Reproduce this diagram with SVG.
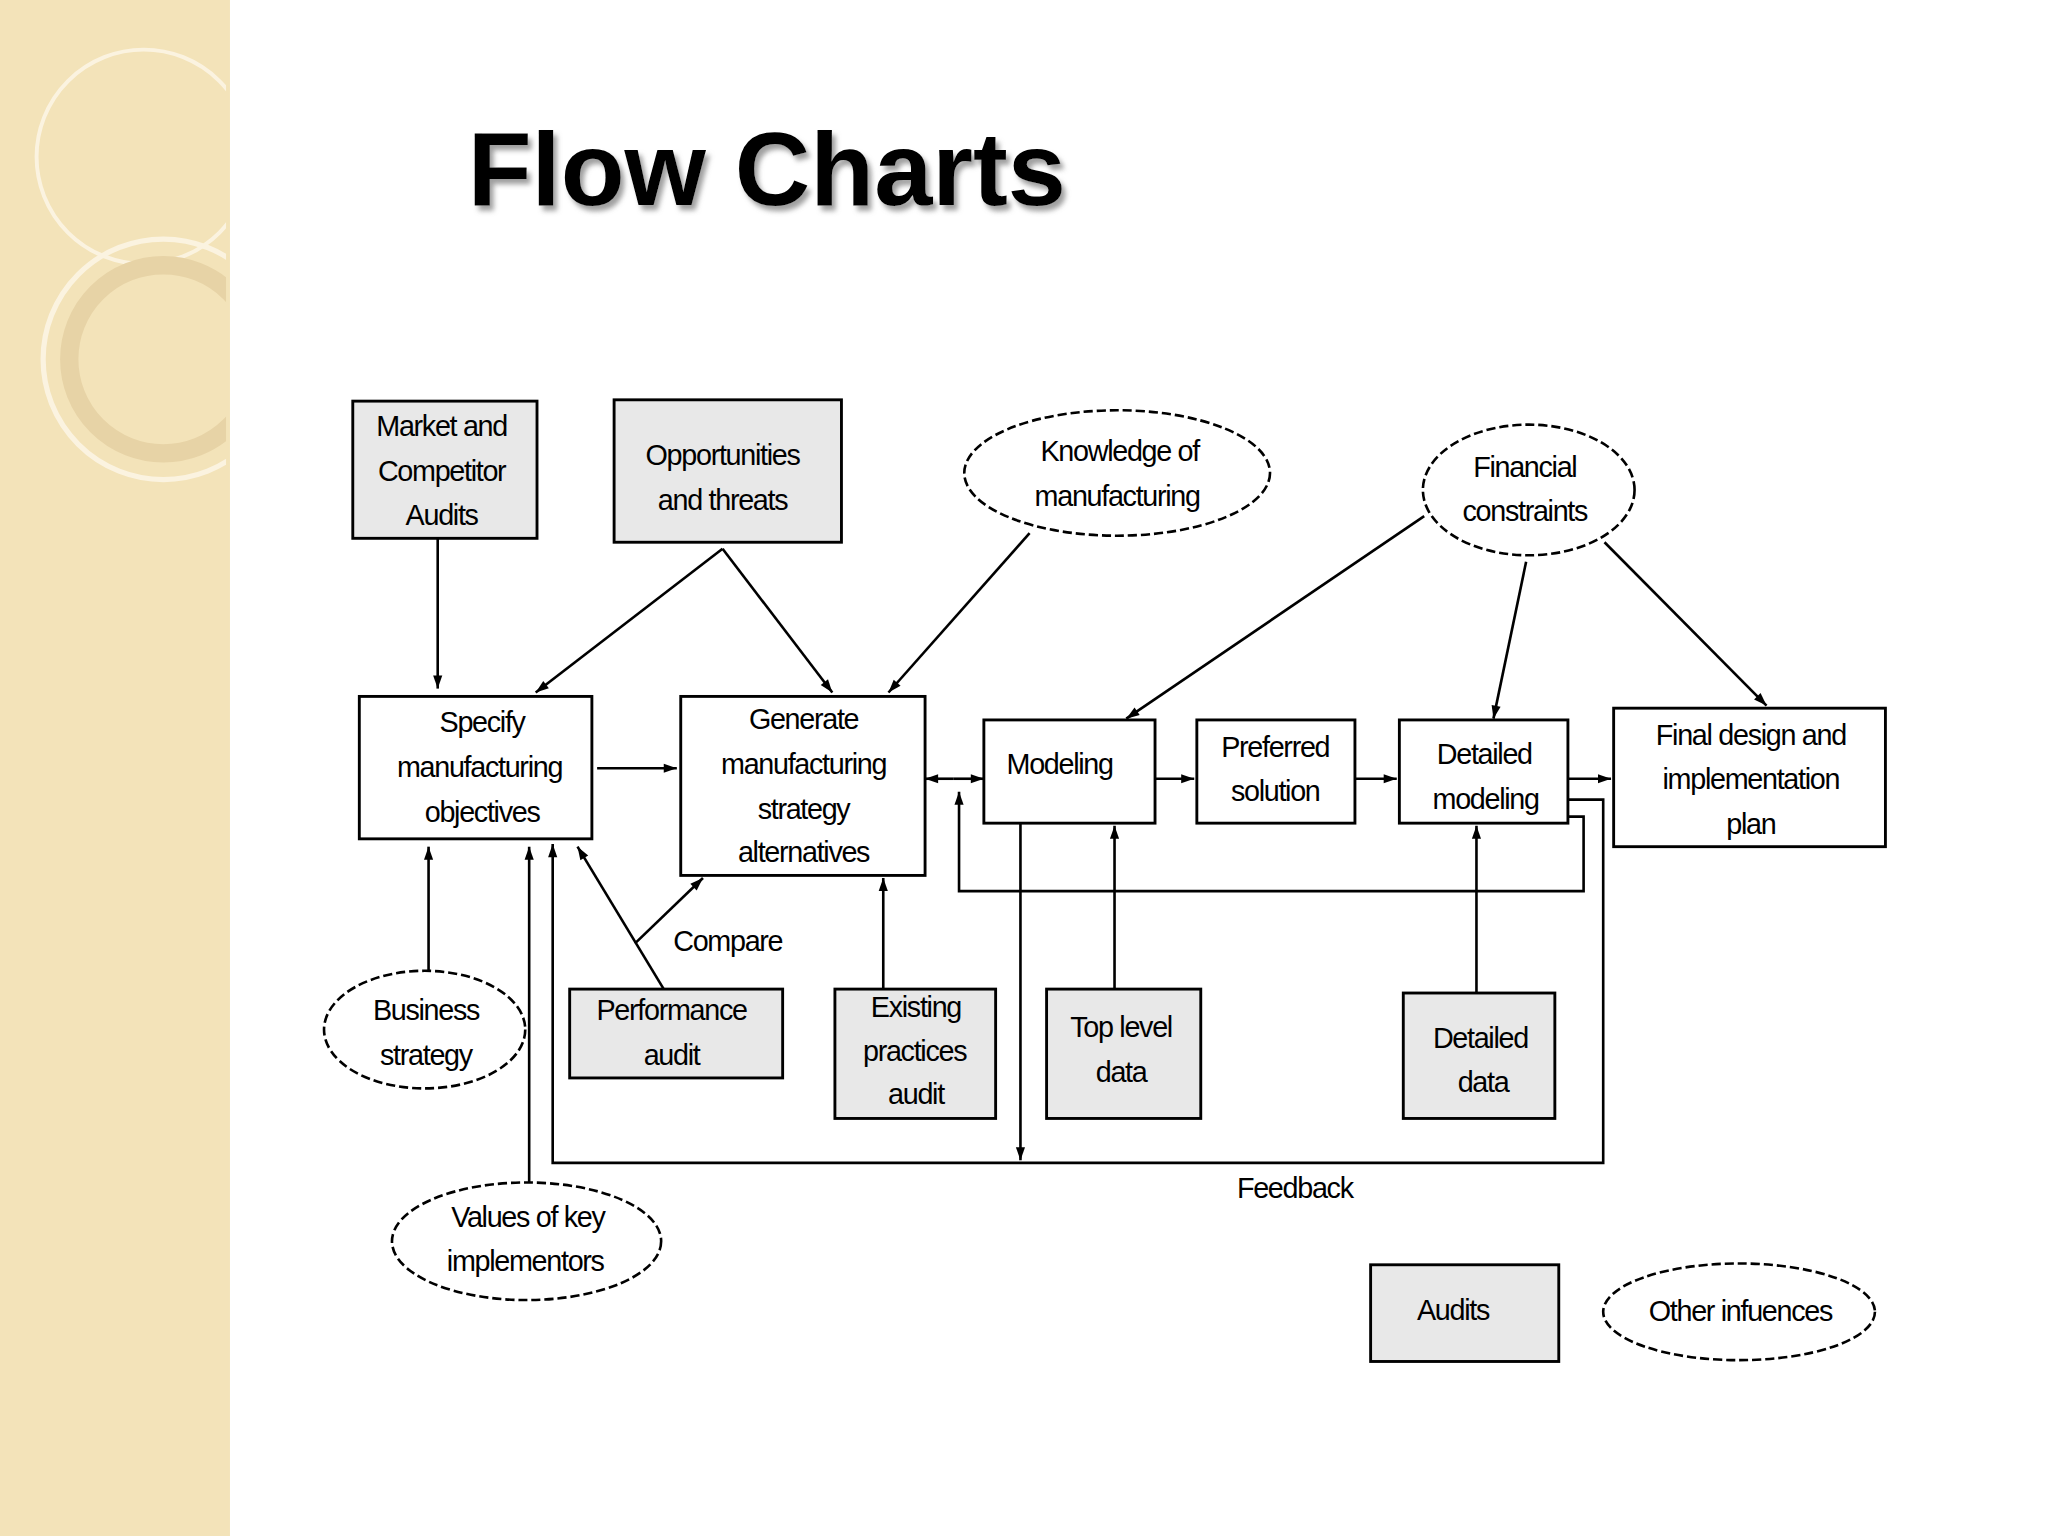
<svg xmlns="http://www.w3.org/2000/svg" width="2048" height="1536" viewBox="0 0 2048 1536">
<style>
.box{stroke:#000;stroke-width:2.2;}
.g{fill:#e8e8e8}.w{fill:#fff}
.el{fill:#fff;stroke:#000;stroke-width:2;stroke-dasharray:7 3}
.t{font-family:"Liberation Sans",Arial,sans-serif;font-size:22px;fill:#000;text-anchor:middle;letter-spacing:-1px}
.c{fill:none;stroke:#000;stroke-width:2}
</style>
<defs>
<marker id="a" viewBox="0 0 10 10" refX="10" refY="5" markerWidth="13" markerHeight="10" orient="auto-start-reverse" markerUnits="userSpaceOnUse"><path d="M0,1.5 L10,5 L0,8.5 z" fill="#000"/></marker>
<clipPath id="strip"><rect x="0" y="0" width="173" height="1176"/></clipPath>
<filter id="sh" x="-5%" y="-20%" width="115%" height="150%"><feDropShadow dx="3" dy="4" stdDeviation="2" flood-color="#777" flood-opacity="0.7"/></filter>
</defs>
<rect width="2048" height="1536" fill="#fff"/>
<g transform="scale(1.3066)">
<rect x="0" y="0" width="176" height="1180" fill="#f3e3b9"/>
<g clip-path="url(#strip)" fill="none" stroke="#fbf3e0" stroke-width="3">
<circle cx="110" cy="120" r="82"/>
<circle cx="125" cy="275" r="92" stroke-width="4"/>
<circle cx="125" cy="275" r="72" stroke="#e7d3a6" stroke-width="14"/>
</g>
<text x="358" y="157" font-family="Liberation Sans,Arial,sans-serif" font-weight="bold" font-size="80" fill="#000" filter="url(#sh)">Flow Charts</text>

<g id="connectors" marker-end="url(#a)">
<path class="c" d="M335,412 V527"/>
<path class="c" d="M553,420 L410,530"/>
<path class="c" d="M553,420 L637,530"/>
<path class="c" d="M788,408 L680,530"/>
<path class="c" d="M1090,395 L862,550"/>
<path class="c" d="M1168,430 L1143,550"/>
<path class="c" d="M1228,415 L1352,540"/>
<path class="c" d="M457,588 H518"/>
<path class="c" d="M730,596 H753"/>
<path class="c" d="M730,596 H708"/>
<path class="c" d="M884,596 H914"/>
<path class="c" d="M1037,596 H1069"/>
<path class="c" d="M1200,596 H1233"/>
<path class="c" d="M1200,625 H1212 V682 H734 V606"/>
<path class="c" d="M1200,612 H1227 V890 H423 V646"/>
<path class="c" d="M781,630 V888"/>
<path class="c" d="M853,757 V632"/>
<path class="c" d="M1130,760 V632"/>
<path class="c" d="M676,757 V672"/>
<path class="c" d="M328,743 V648"/>
<path class="c" d="M405,905 V648"/>
<path class="c" d="M508,757 L442,648"/>
<path class="c" d="M486,722 L538,672"/>
</g>

<g id="n-market"><rect class="box g" x="270" y="307" width="141" height="105"/><text class="t" x="338" y="334">Market and</text><text class="t" x="338" y="368">Competitor</text><text class="t" x="338" y="402">Audits</text></g>
<g id="n-opp"><rect class="box g" x="470" y="306" width="174" height="109"/><text class="t" x="553" y="356">Opportunities</text><text class="t" x="553" y="390">and threats</text></g>
<g id="n-know"><ellipse class="el" cx="855" cy="362" rx="117" ry="48"/><text class="t" x="857" y="353">Knowledge of</text><text class="t" x="855" y="387">manufacturing</text></g>
<g id="n-fin"><ellipse class="el" cx="1170" cy="375" rx="81" ry="50"/><text class="t" x="1167" y="365">Financial</text><text class="t" x="1167" y="399">constraints</text></g>
<g id="n-spec"><rect class="box w" x="275" y="533" width="178" height="109"/><text class="t" x="369" y="560">Specify</text><text class="t" x="367" y="595">manufacturing</text><text class="t" x="369" y="629">objectives</text></g>
<g id="n-gen"><rect class="box w" x="521" y="533" width="187" height="137"/><text class="t" x="615" y="558">Generate</text><text class="t" x="615" y="592">manufacturing</text><text class="t" x="615" y="627">strategy</text><text class="t" x="615" y="660">alternatives</text></g>
<g id="n-mod"><rect class="box w" x="753" y="551" width="131" height="79"/><text class="t" x="811" y="592">Modeling</text></g>
<g id="n-pref"><rect class="box w" x="916" y="551" width="121" height="79"/><text class="t" x="976" y="579">Preferred</text><text class="t" x="976" y="613">solution</text></g>
<g id="n-det"><rect class="box w" x="1071" y="551" width="129" height="79"/><text class="t" x="1136" y="585">Detailed</text><text class="t" x="1137" y="619">modeling</text></g>
<g id="n-final"><rect class="box w" x="1235" y="542" width="208" height="106"/><text class="t" x="1340" y="570">Final design and</text><text class="t" x="1340" y="604">implementation</text><text class="t" x="1340" y="638">plan</text></g>
<g id="n-bus"><ellipse class="el" cx="325" cy="788" rx="77" ry="45"/><text class="t" x="326" y="781">Business</text><text class="t" x="326" y="815">strategy</text></g>
<g id="n-perf"><rect class="box g" x="436" y="757" width="163" height="68"/><text class="t" x="514" y="781">Performance</text><text class="t" x="514" y="815">audit</text></g>
<g id="n-exist"><rect class="box g" x="639" y="757" width="123" height="99"/><text class="t" x="701" y="778">Existing</text><text class="t" x="700" y="812">practices</text><text class="t" x="701" y="845">audit</text></g>
<g id="n-top"><rect class="box g" x="801" y="757" width="118" height="99"/><text class="t" x="858" y="794">Top level</text><text class="t" x="858" y="828">data</text></g>
<g id="n-ddata"><rect class="box g" x="1074" y="760" width="116" height="96"/><text class="t" x="1133" y="802">Detailed</text><text class="t" x="1135" y="836">data</text></g>
<g id="n-val"><ellipse class="el" cx="403" cy="950" rx="103" ry="45"/><text class="t" x="404" y="939">Values of key</text><text class="t" x="402" y="973">implementors</text></g>
<g id="n-audits"><rect class="box g" x="1049" y="968" width="144" height="74"/><text class="t" x="1112" y="1010">Audits</text></g>
<g id="n-other"><ellipse class="el" cx="1331" cy="1004" rx="104" ry="37"/><text class="t" x="1332" y="1011">Other infuences</text></g>
<text class="t" x="557" y="728">Compare</text>
<text class="t" x="991" y="917">Feedback</text>
</g>
</svg>
